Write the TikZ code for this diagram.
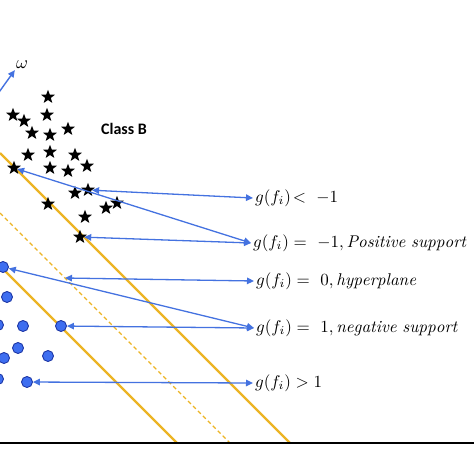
\documentclass[tikz,border=0pt]{standalone}
\usepackage{fontspec}
\newfontfamily\calibri{Carlito}
\usetikzlibrary{arrows.meta, shapes.geometric}
\definecolor{arrowblue}{RGB}{68,114,224}
\definecolor{dotblue}{RGB}{62,110,240}
\definecolor{dotedge}{RGB}{30,55,165}
\definecolor{planeyellow}{RGB}{236,180,36}

\begin{document}
\begin{tikzpicture}[x=1pt, y=-1pt, >={Triangle[length=7pt, width=6.5pt]},
  classA/.style={circle, draw=dotedge, line width=0.9pt, fill=dotblue, minimum size=11pt, inner sep=0pt},
  classB/.style={star, star points=5, star point ratio=2.4, fill=black, minimum size=14.5pt, inner sep=0pt},
  pointer/.style={<->, draw=arrowblue, line width=1.3pt},
  margin/.style={draw=planeyellow, line width=2.2pt},
  eqlabel/.style={anchor=west, inner sep=1pt, scale=1.7}]
  \useasboundingbox (0,0) rectangle (474,474);
  \clip (0,0) rectangle (474,474);
  \coordinate (upA) at (0,153);
  \coordinate (upB) at (290,443);
  \coordinate (midA) at (0,213);
  \coordinate (midB) at (230,443);
  \coordinate (lowA) at (0,266);
  \coordinate (lowB) at (177,443);
  \coordinate (hp) at (65,278);
  \coordinate (base0) at (0,443);
  \coordinate (base1) at (474,443);
  \draw[margin] (upA) -- (upB);
  \draw[margin] (lowA) -- (lowB);
  \draw[planeyellow, line width=1.3pt, dash pattern=on 4pt off 3pt] (midA) -- (midB);
  \draw[line width=2.4pt] (base0) -- (base1);
  \node[classB] (s1) at (48,97) {};
  \node[classB] (s2) at (13,115) {};
  \node[classB] (s3) at (47,115) {};
  \node[classB] (s4) at (24,121) {};
  \node[classB] (s5) at (32,133) {};
  \node[classB] (s6) at (50,135) {};
  \node[classB] (s7) at (68,129) {};
  \node[classB] (s8) at (28,155) {};
  \node[classB] (s9) at (50,152) {};
  \node[classB] (s10) at (75,155) {};
  \node[classB] (s11) at (14,168) {};
  \node[classB] (s12) at (50,168) {};
  \node[classB] (s13) at (68,171) {};
  \node[classB] (s14) at (87,166) {};
  \node[classB] (s15) at (75,193) {};
  \node[classB] (s16) at (88,190) {};
  \node[classB] (s17) at (48,204) {};
  \node[classB] (s18) at (106,208) {};
  \node[classB] (s19) at (117,203) {};
  \node[classB] (s20) at (85,217) {};
  \node[classB] (s21) at (80,237) {};
  \node[classA] (c1) at (3,267) {};
  \node[classA] (c2) at (7,297) {};
  \node[classA] (c3) at (-2,325) {};
  \node[classA] (c4) at (23,326) {};
  \node[classA] (c5) at (61,326) {};
  \node[classA] (c6) at (18,348) {};
  \node[classA] (c7) at (4,358) {};
  \node[classA] (c8) at (48,356) {};
  \node[classA] (c9) at (-2,379) {};
  \node[classA] (c10) at (27,382) {};
  \node[font=\calibri\bfseries\fontsize{16}{19}\selectfont] (nameB) at (124,129) {Class B};
  \node[scale=1.8, inner sep=0.5pt] (omega) at (22,65) {$\omega$};
  \coordinate (w0) at (-3,95);
  \draw[->, draw=arrowblue, line width=1.4pt] (w0) -- (omega.south west);
  \node[eqlabel] (lt) at (253,198) {$g(f_i)\!<\ -1$};
  \node[eqlabel] (lpos) at (251,243) {$g(f_i) =\ -1, \mathit{Positive\ support}$};
  \node[eqlabel] (lzero) at (254,281) {$g(f_i) =\ 0, \mathit{hyperplane}$};
  \node[eqlabel] (lneg) at (254,328) {$g(f_i) =\ 1, \mathit{negative\ support}$};
  \node[eqlabel] (lgt) at (253,383) {$g(f_i) > 1$};
  \draw[pointer] (lt.west) -- (s16);
  \draw[pointer] (lpos.west) -- (s11);
  \draw[pointer] (lpos.west) -- (s21);
  \draw[pointer] (lzero.west) -- (hp);
  \draw[pointer] (lneg.west) -- (c1);
  \draw[pointer] (lneg.west) -- (c5);
  \draw[pointer] (lgt.west) -- (c10);
\end{tikzpicture}
\end{document}
